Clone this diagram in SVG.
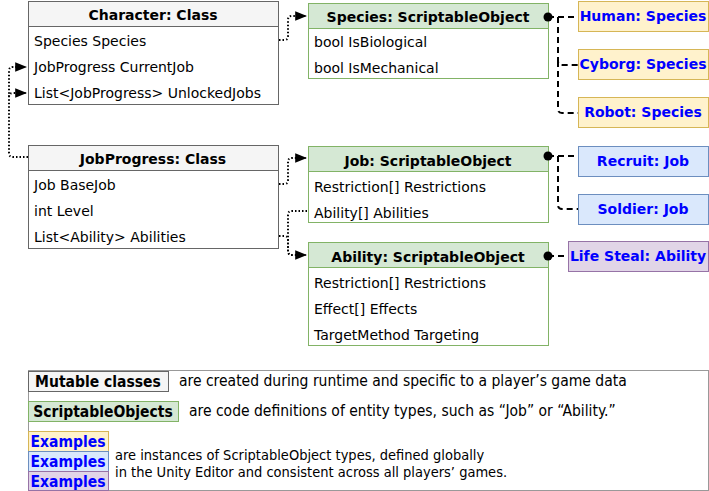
<svg xmlns="http://www.w3.org/2000/svg" width="709" height="491" viewBox="0 0 709 491">
<defs>
<marker id="ar" viewBox="0 0 10 10" refX="9" refY="5" markerWidth="6" markerHeight="6" orient="auto"><path d="M0,1 L10,5 L0,9 Z" fill="#000"/></marker>
<marker id="dot" viewBox="0 0 10 10" refX="5" refY="5" markerWidth="5" markerHeight="5"><circle cx="5" cy="5" r="4.5" fill="#000"/></marker>
</defs>
<style>
text{font-family:"DejaVu Sans",Verdana,sans-serif;font-size:14px;fill:#000}
.h{font-weight:bold;text-anchor:middle}
.cls{fill:#fff;stroke:#666}
.clh{fill:#f5f5f5;stroke:#666}
.so{fill:#fff;stroke:#82b366}
.soh{fill:#d5e8d4;stroke:#82b366}
.y{fill:#fff2cc;stroke:#d6b656}
.b{fill:#dae8fc;stroke:#6c8ebf}
.p{fill:#e1d5e7;stroke:#9673a6}
.ex{font-weight:bold;fill:#0000ff;text-anchor:middle}
.dl{fill:none;stroke:#000;stroke-width:2;stroke-dasharray:1.5 2}
.da{fill:none;stroke:#000;stroke-width:2;stroke-dasharray:6 4}
.lg{font-family:"DejaVu Sans Condensed","DejaVu Sans",sans-serif;font-stretch:condensed;font-size:15.5px}
.lg2{font-family:"DejaVu Sans Condensed","DejaVu Sans",sans-serif;font-stretch:condensed;font-size:14.5px}
</style>
<g id="character">
<rect class="cls" x="28.5" y="1.5" width="250" height="103"/>
<rect class="clh" x="28.5" y="1.5" width="250" height="25"/>
<text class="h" x="153" y="20">Character: Class</text>
<text x="34" y="46">Species Species</text>
<text x="34" y="72">JobProgress CurrentJob</text>
<text x="34" y="98">List&lt;JobProgress&gt; UnlockedJobs</text>
</g>
<g id="jobprogress">
<rect class="cls" x="28.5" y="145.5" width="250" height="103"/>
<rect class="clh" x="28.5" y="145.5" width="250" height="25"/>
<text class="h" x="153" y="164">JobProgress: Class</text>
<text x="34" y="190">Job BaseJob</text>
<text x="34" y="216">int Level</text>
<text x="34" y="242">List&lt;Ability&gt; Abilities</text>
</g>
<g id="species">
<rect class="so" x="308.5" y="3.5" width="240" height="75"/>
<rect class="soh" x="308.5" y="3.5" width="240" height="25"/>
<text class="h" x="428" y="22">Species: ScriptableObject</text>
<text x="314" y="47">bool IsBiological</text>
<text x="314" y="73">bool IsMechanical</text>
</g>
<g id="job">
<rect class="so" x="308.5" y="146.5" width="240" height="76"/>
<rect class="soh" x="308.5" y="146.5" width="240" height="25"/>
<text class="h" x="428" y="166">Job: ScriptableObject</text>
<text x="314" y="192">Restriction[] Restrictions</text>
<text x="314" y="218">Ability[] Abilities</text>
</g>
<g id="ability">
<rect class="so" x="308.5" y="242.5" width="240" height="103"/>
<rect class="soh" x="308.5" y="242.5" width="240" height="25"/>
<text class="h" x="428" y="262">Ability: ScriptableObject</text>
<text x="314" y="288">Restriction[] Restrictions</text>
<text x="314" y="314">Effect[] Effects</text>
<text x="314" y="340">TargetMethod Targeting</text>
</g>
<g id="human"><rect class="y" x="578.5" y="1.5" width="130" height="30"/><text class="ex" x="643" y="21">Human: Species</text></g>
<g id="cyborg"><rect class="y" x="578.5" y="49.5" width="130" height="30"/><text class="ex" x="643" y="69">Cyborg: Species</text></g>
<g id="robot"><rect class="y" x="578.5" y="97.5" width="130" height="30"/><text class="ex" x="643" y="117">Robot: Species</text></g>
<g id="recruit"><rect class="b" x="578.5" y="146.5" width="130" height="30"/><text class="ex" x="643" y="166">Recruit: Job</text></g>
<g id="soldier"><rect class="b" x="578.5" y="194.5" width="130" height="30"/><text class="ex" x="643" y="214">Soldier: Job</text></g>
<g id="lifesteal"><rect class="p" x="568.5" y="241.5" width="140" height="30"/><text class="ex" x="638" y="261">Life Steal: Ability</text></g>
<g id="connectors">
<path class="dl" d="M279,40 h5 q4,0 4,-4 v-16 q0,-4 4,-4 h14" marker-end="url(#ar)"/>
<path class="dl" d="M28,157 h-15 q-4,0 -4,-4 v-82 q0,-4 4,-4 h13" marker-end="url(#ar)"/>
<path class="dl" d="M9,97 q0,-4 4,-4 h13" marker-end="url(#ar)"/>
<path class="dl" d="M279,184 h5 q4,0 4,-4 v-18 q0,-4 4,-4 h14" marker-end="url(#ar)"/>
<path class="dl" d="M279,236 h5 q4,0 4,4 v11 q0,4 4,4 h14" marker-end="url(#ar)"/>
<path class="dl" d="M307,211 h-15 q-4,0 -4,4 v36 q0,4 4,4"/>
<path class="da" d="M548,17 h30" marker-start="url(#dot)"/>
<path class="da" d="M558,17 v44 q0,4 4,4 h16 M558,61 v48 q0,4 4,4 h16"/>
<path class="da" d="M548,156 h30" marker-start="url(#dot)"/>
<path class="da" d="M558,156 v49 q0,4 4,4 h16"/>
<path class="da" d="M548,256 h20" marker-start="url(#dot)"/>
</g>
<g id="legend">
<rect x="28.5" y="370.5" width="680" height="120" fill="#fff" stroke="#999"/>
<rect x="28.5" y="371.5" width="140" height="20" fill="#f5f5f5" stroke="#666"/>
<text class="lg" x="98" y="387" font-weight="bold" text-anchor="middle">Mutable classes</text>
<text class="lg" x="179" y="386">are created during runtime and specific to a player’s game data</text>
<rect x="28.5" y="401.5" width="150" height="20" fill="#d5e8d4" stroke="#82b366"/>
<text class="lg" x="103" y="417" font-weight="bold" text-anchor="middle">ScriptableObjects</text>
<text class="lg" x="189" y="416">are code definitions of entity types, such as “Job” or “Ability.”</text>
<rect class="y" x="28.5" y="431.5" width="80" height="20"/>
<rect class="b" x="28.5" y="451.5" width="80" height="20"/>
<rect class="p" x="28.5" y="471.5" width="80" height="19"/>
<text class="lg ex" x="68" y="447">Examples</text>
<text class="lg ex" x="68" y="467">Examples</text>
<text class="lg ex" x="68" y="487">Examples</text>
<text class="lg2" x="115" y="460">are instances of ScriptableObject types, defined globally</text>
<text class="lg2" x="115" y="477">in the Unity Editor and consistent across all players’ games.</text>
</g>
</svg>
